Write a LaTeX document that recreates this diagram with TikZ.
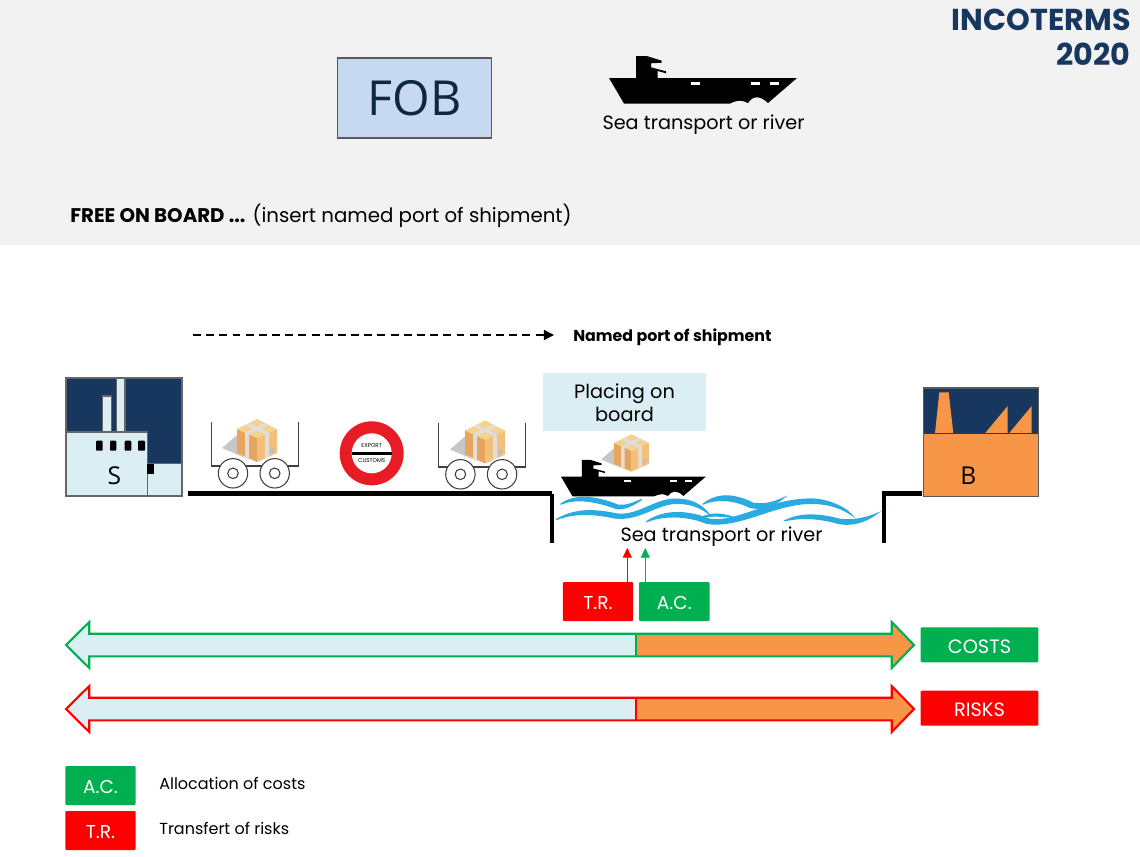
\documentclass[tikz,border=0pt]{standalone}
\usepackage{fontspec}
\setmainfont{Poppins}
\newfontfamily\fobfont{Open Sans}
\usepackage{tikz}
\usetikzlibrary{arrows.meta}
\usetikzlibrary{math}

\definecolor{headGrey}{HTML}{F2F2F2}
\definecolor{fobBlue}{HTML}{C6D9F1}
\definecolor{navy}{HTML}{17375E}
\definecolor{paleBlue}{HTML}{DAEEF3}
\definecolor{factOrange}{HTML}{F79646}
\definecolor{acGreen}{HTML}{00B050}
\definecolor{trRed}{HTML}{FF0000}
\definecolor{waveBlue}{HTML}{29ABE2}
\definecolor{customsRed}{HTML}{E81C24}
\definecolor{boxLeft}{HTML}{E5A55D}
\definecolor{boxRight}{HTML}{F2C07A}
\definecolor{boxTop}{HTML}{F6D28C}
\definecolor{boxTape}{HTML}{E2DDD7}

\tikzset{
  tagBox/.style={rounded corners=0.6pt, inner sep=0pt, minimum width=1.41cm, minimum height=0.78cm,
    text=white, text height=9.5pt, text depth=0pt, font=\fontsize{10.6}{12}\selectfont},
  sideBox/.style={tagBox, minimum width=2.36cm, minimum height=0.7cm, font=\fontsize{11}{13}\selectfont},
  legendText/.style={anchor=west, inner sep=0pt, font=\fontsize{9.1}{11}\selectfont},
  seaText/.style={inner sep=0pt, font=\fontsize{10.95}{13}\selectfont},
  quay/.style={black, line width=2.6pt},
  wave/.style={waveBlue, fill=waveBlue, line width=0.7pt},
  wheel/.style={draw=black!75, line width=0.6pt, fill=white},
  ship/.pic={
    \fill[black] (0,0) -- (27,0) -- (27,-22) -- (37.7,-22) -- (52.7,-17.3) -- (52.7,-15.3) -- (42,-14.7) -- (42,-10.7)
      -- (57,-6.7) -- (57,-4.7) -- (48.7,-7) -- (48.7,0) -- (188,0) -- (159,25)
      .. controls (155,21) and (151,19.3) .. (147.7,19.3) .. controls (144,19.3) and (141,22) .. (139,25)
      .. controls (136,23.5) and (133,22.7) .. (131,22.7) .. controls (128,22.7) and (124,24) .. (121,25.5)
      -- (15,25.5) -- cycle;
    \fill[white] (82,4) rectangle (91,6.5);
    \fill[white] (142,4) rectangle (151,6.5);
    \fill[white] (161,4) rectangle (170,6.5);
  },
  parcel/.pic={
    \fill[black!22] (-35,8) -- (-20,-5) -- (-20,13) -- (-7,20) -- cycle;
    \fill[boxLeft] (-20,-11) -- (0,-2) -- (0,22) -- (-20,13) -- cycle;
    \fill[boxRight] (20,-11) -- (0,-2) -- (0,22) -- (20,13) -- cycle;
    \fill[boxTop] (0,-21) -- (20,-11) -- (0,-2) -- (-20,-11) -- cycle;
    \fill[boxTape] (-12,-7.4) -- (-8,-5.6) -- (12,-15) -- (8,-17) -- cycle;
    \fill[boxTape] (8,-5.6) -- (12,-7.4) -- (-8,-17) -- (-12,-15) -- cycle;
    \fill[boxTape] (-12,-7.4) -- (-8,-5.6) -- (-8,18.4) -- (-12,16.6) -- cycle;
    \fill[boxTape] (8,-5.6) -- (12,-7.4) -- (12,16.6) -- (8,18.4) -- cycle;
    \fill[black!25] (13,9) -- (17,7) -- (17,12) -- (13,14) -- cycle;
  },
  cart/.pic={
    \draw[black!75, line width=0.6pt] (0,0) -- (0,44) -- (87,44) -- (87,0);
    \draw[wheel] (21.7,51.3) circle (14.7);
    \draw[wheel] (21.7,51.3) circle (5.3);
    \draw[wheel] (63.4,51.3) circle (14.7);
    \draw[wheel] (63.4,51.3) circle (5.3);
  }
}

\begin{document}
\begin{tikzpicture}[x=0.02cm, y=-0.02cm]
  \tikzmath{
    \xTipL = 66; \xHeadL = 89.3; \xSplit = 636; \xHeadR = 891.7; \xTipR = 914;
    \hShaft = 11.3; \hHead = 23;
    \yCost = 645; \yRisk = 709;
  }

  \useasboundingbox (0,0) rectangle (1140,856);
  \fill[headGrey] (0,0) rectangle (1140,245);

  % header
  \node[draw=black!65, fill=fobBlue, line width=0.6pt, minimum width=3.09cm, minimum height=1.6cm, inner sep=0pt, text=navy!70!black, font=\fobfont\fontsize{27.5}{30}\selectfont] (FOBBox) at (414.5,98) {\raisebox{-1.9pt}{FOB}};
  \node[anchor=east, inner sep=0pt, text=navy, font=\fontsize{17.2}{20}\selectfont\bfseries] (IncoLabel) at (1131,20) {INCOTERMS};
  \node[anchor=east, inner sep=0pt, text=navy, font=\fontsize{17.2}{20}\selectfont\bfseries] (YearLabel) at (1131,54) {2020};
  \pic at (609,78) {ship};
  \node[seaText] (SeaTop) at (703.5,124.5) {Sea transport or river};
  \node[anchor=west, inner sep=0pt, font=\fontsize{11.25}{13}\selectfont] (TermLabel) at (70,216) {\textbf{FREE ON BOARD ...} (insert named port of shipment)};

  % named port
  \coordinate (PortStart) at (193,335);
  \coordinate (PortEnd) at (554,335);
  \draw[black, line width=0.8pt, dash pattern=on 4.5pt off 3pt, -{Triangle[length=5.7pt,width=5.7pt]}] (PortStart) -- (PortEnd);
  \node[anchor=west, inner sep=0pt, font=\fontsize{9}{11}\selectfont\bfseries] (PortLabel) at (573,337.5) {Named port of shipment};

  % seller
  \fill[navy] (66,378) rectangle (182,496);
  \draw[black!60, line width=0.6pt, fill=paleBlue] (66,432) rectangle (147.7,496);
  \draw[black!60, line width=0.6pt, fill=paleBlue] (147.7,463.3) rectangle (182,496);
  \draw[black!60, line width=0.6pt, fill=paleBlue] (102.7,396) rectangle (111.3,432);
  \draw[black!60, line width=0.6pt, fill=paleBlue] (116.3,378) rectangle (125,432);
  \fill[black, rounded corners=0.5pt] (96,440.7) rectangle (102.7,450.7);
  \fill[black, rounded corners=0.5pt] (110,440.7) rectangle (116.3,450.7);
  \fill[black, rounded corners=0.5pt] (124.7,440.7) rectangle (131.3,450.7);
  \fill[black, rounded corners=0.5pt] (138,440.7) rectangle (145,450.7);
  \fill[black] (147,464.3) rectangle (153.7,474);
  \node[inner sep=0pt, font=\fobfont\fontsize{14}{16}\selectfont] (SLabel) at (114.3,476) {S};
  \draw[black!60, line width=0.6pt] (66,378) rectangle (182,496);

  % land transport
  \pic at (211.3,422) {cart};
  \pic at (257,440) {parcel};
  \pic at (438.7,423) {cart};
  \pic at (485,441.5) {parcel};

  \fill[customsRed] (371.7,453.3) circle (32);
  \fill[white] (371.7,453.3) circle (20);
  \fill[black] (352,451.5) rectangle (392,455.1);
  \node[inner sep=0pt, font=\fontsize{3.2}{3.5}\selectfont] (ExportLabel) at (371.7,446) {EXPORT};
  \node[inner sep=0pt, font=\fontsize{3.2}{3.5}\selectfont] (CustomsLabel) at (371.7,460.5) {CUSTOMS};

  \coordinate (RoadStart) at (188,493.7);
  \coordinate (QuayL) at (552,493.7);
  \coordinate (QuayLEnd) at (552,542.5);
  \coordinate (QuayR) at (884,493.7);
  \coordinate (QuayREnd) at (884,542.5);
  \coordinate (RoadEnd) at (922,493.7);
  \draw[quay, line width=2.8pt] (RoadStart) -- (QuayL);
  \draw[quay] (QuayL) -- (QuayLEnd);
  \draw[quay] (QuayREnd) -- (QuayR) -- (RoadEnd);

  % placing on board
  \fill[paleBlue] (543,373) rectangle (706,431);
  \node[align=center, inner sep=0pt, font=\fontsize{11}{13}\selectfont] (PlacingLabel) at (624.5,403) {Placing on\\board};
  \pic at (631.5,452.5) [scale=0.87] {parcel};
  \pic at (561,476.7) [scale=0.77] {ship};

  \begin{scope}[shift={(530,360)}, scale=1/3]
    \draw[wave] (93,432) .. controls (130,405) and (190,405) .. (265,436) .. controls (285,438) and (305,432) .. (335,418) .. controls (305,440) and (280,448) .. (260,446) .. controls (190,420) and (135,415) .. cycle;
    \draw[wave] (80,478) .. controls (130,450) and (180,445) .. (260,462) .. controls (330,470) and (380,410) .. (450,418) .. controls (490,420) and (520,440) .. (535,460) .. controls (500,435) and (470,430) .. (440,430) .. controls (380,430) and (330,482) .. (255,474) .. controls (180,458) and (130,460) .. cycle;
    \draw[wave] (350,485) .. controls (400,450) and (470,450) .. (540,478) .. controls (620,490) and (720,415) .. (850,417) .. controls (900,420) and (950,445) .. (965,465) .. controls (920,435) and (880,430) .. (840,430) .. controls (730,432) and (630,505) .. (530,490) .. controls (470,465) and (400,465) .. cycle;
    \draw[wave] (520,432) .. controls (560,400) and (610,400) .. (670,430) .. controls (700,435) and (730,428) .. (760,414) .. controls (730,440) and (690,450) .. (660,442) .. controls (610,418) and (560,415) .. cycle;
    \draw[wave] (765,482) .. controls (810,460) and (860,460) .. (930,478) .. controls (960,482) and (1000,478) .. (1040,461) .. controls (1005,488) and (960,498) .. (925,490) .. controls (860,472) and (810,472) .. cycle;
    \draw[wave] (515,472) .. controls (545,458) and (575,460) .. (610,472) .. controls (575,468) and (545,466) .. cycle;
  \end{scope}
  \node[seaText] (SeaBottom) at (721.5,536.5) {Sea transport or river};

  % buyer
  \fill[navy] (923.7,388) rectangle (1038.7,433.3);
  \fill[factOrange] (935,433.3) -- (939.3,392.3) -- (948.7,392.3) -- (953.3,433.3) -- cycle;
  \fill[factOrange] (985,433.3) -- (1007.7,406) -- (1007.7,433.3) -- cycle;
  \fill[factOrange] (1009,433.3) -- (1031.7,406) -- (1031.7,433.3) -- cycle;
  \draw[black!60!brown, line width=0.6pt, fill=factOrange] (923.7,433.3) rectangle (1038.7,496.7);
  \draw[black!65, line width=0.6pt] (923.7,388) rectangle (1038.7,496.7);
  \node[inner sep=0pt, font=\fobfont\fontsize{14}{16}\selectfont] (BLabel) at (968.3,476) {B};

  % tags
  \node[tagBox, fill=trRed] (TRTag) at (598,601.5) {T.R.};
  \node[tagBox, fill=acGreen] (ACTag) at (674.3,601.5) {A.C.};
  \coordinate (TRTip) at (627.3,548);
  \coordinate (ACTip) at (645.3,548);
  \draw[trRed, line width=0.6pt, -{Triangle[length=5.5pt,width=5.2pt]}] (TRTip |- TRTag.north) -- (TRTip);
  \draw[acGreen, line width=0.6pt, -{Triangle[length=5.5pt,width=5.2pt]}] (ACTip |- ACTag.north) -- (ACTip);

  % costs arrow
  \fill[paleBlue] (\xTipL,\yCost) -- (\xHeadL,\yCost-\hHead) -- (\xHeadL,\yCost-\hShaft) -- (\xSplit,\yCost-\hShaft) -- (\xSplit,\yCost+\hShaft) -- (\xHeadL,\yCost+\hShaft) -- (\xHeadL,\yCost+\hHead) -- cycle;
  \fill[factOrange] (\xTipR,\yCost) -- (\xHeadR,\yCost-\hHead) -- (\xHeadR,\yCost-\hShaft) -- (\xSplit,\yCost-\hShaft) -- (\xSplit,\yCost+\hShaft) -- (\xHeadR,\yCost+\hShaft) -- (\xHeadR,\yCost+\hHead) -- cycle;
  \draw[acGreen, line width=1.2pt] (\xTipL,\yCost) -- (\xHeadL,\yCost-\hHead) -- (\xHeadL,\yCost-\hShaft) -- (\xHeadR,\yCost-\hShaft) -- (\xHeadR,\yCost-\hHead) -- (\xTipR,\yCost) -- (\xHeadR,\yCost+\hHead) -- (\xHeadR,\yCost+\hShaft) -- (\xHeadL,\yCost+\hShaft) -- (\xHeadL,\yCost+\hHead) -- cycle;
  \draw[acGreen, line width=1.2pt] (\xSplit,\yCost-\hShaft) -- (\xSplit,\yCost+\hShaft);
  \node[sideBox, fill=acGreen] (CostsTag) at (979.5,644.8) {COSTS};

  % risks arrow
  \fill[paleBlue] (\xTipL,\yRisk) -- (\xHeadL,\yRisk-\hHead) -- (\xHeadL,\yRisk-\hShaft) -- (\xSplit,\yRisk-\hShaft) -- (\xSplit,\yRisk+\hShaft) -- (\xHeadL,\yRisk+\hShaft) -- (\xHeadL,\yRisk+\hHead) -- cycle;
  \fill[factOrange] (\xTipR,\yRisk) -- (\xHeadR,\yRisk-\hHead) -- (\xHeadR,\yRisk-\hShaft) -- (\xSplit,\yRisk-\hShaft) -- (\xSplit,\yRisk+\hShaft) -- (\xHeadR,\yRisk+\hShaft) -- (\xHeadR,\yRisk+\hHead) -- cycle;
  \draw[trRed, line width=1.2pt] (\xTipL,\yRisk) -- (\xHeadL,\yRisk-\hHead) -- (\xHeadL,\yRisk-\hShaft) -- (\xHeadR,\yRisk-\hShaft) -- (\xHeadR,\yRisk-\hHead) -- (\xTipR,\yRisk) -- (\xHeadR,\yRisk+\hHead) -- (\xHeadR,\yRisk+\hShaft) -- (\xHeadL,\yRisk+\hShaft) -- (\xHeadL,\yRisk+\hHead) -- cycle;
  \draw[trRed, line width=1.2pt] (\xSplit,\yRisk-\hShaft) -- (\xSplit,\yRisk+\hShaft);
  \node[sideBox, fill=trRed] (RisksTag) at (979.5,708.2) {RISKS};

  % legend
  \node[tagBox, fill=acGreen] (ACKey) at (100.5,785.5) {A.C.};
  \node[tagBox, fill=trRed] (TRKey) at (100.5,830.5) {T.R.};
  \node[legendText] (ACText) at (159,783.5) {Allocation of costs};
  \node[legendText] (TRText) at (159,828.5) {Transfert of risks};
\end{tikzpicture}
\end{document}
